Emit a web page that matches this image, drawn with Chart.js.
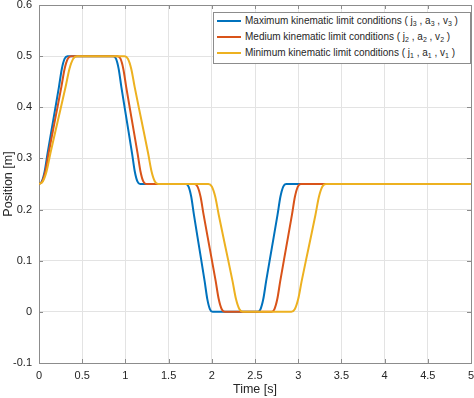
<!DOCTYPE html>
<html>
<head>
<meta charset="utf-8">
<script src="https://cdn.jsdelivr.net/npm/chart.js@4.4.0/dist/chart.umd.min.js"></script>
<style>
  html, body { margin: 0; padding: 0; background: #fff; }
  #wrap { position: relative; width: 474px; height: 398px; }
  #legend {
    position: absolute; left: 213px; top: 12px; width: 256px; height: 50px;
    background: #fff; border: 1px solid #8c8c8c;
    font: 10px "Liberation Sans", Arial, sans-serif; color: #262626;
  }
  .row { position: absolute; left: 0; height: 16px; line-height: 16px; white-space: nowrap; }
  .swatch { position: absolute; left: 3px; top: 7px; width: 24px; height: 2px; }
  .lbl { position: absolute; left: 31px; top: 0; }
  sub { font-size: 7px; vertical-align: -2px; line-height: 0; }
</style>
</head>
<body>
<div id="wrap">
  <canvas id="chart" width="474" height="398"></canvas>
  <div id="legend"></div>
</div>
<script>
// valores
var timeMax = [0, 0.033, 0.066, 0.099, 0.165, 0.231, 0.264, 0.297, 0.33,
  0.86, 0.891, 0.922, 0.953, 1.015, 1.077, 1.108, 1.139, 1.17,
  1.70, 1.731, 1.762, 1.793, 1.855, 1.917, 1.948, 1.979, 2.01,
  2.53, 2.563, 2.596, 2.629, 2.695, 2.761, 2.794, 2.827, 2.86,
  5];
var posMax = [0.25, 0.255, 0.275, 0.31, 0.375, 0.44, 0.475, 0.495, 0.5,
  0.5, 0.495, 0.475, 0.44, 0.375, 0.31, 0.275, 0.255, 0.25,
  0.25, 0.245, 0.225, 0.19, 0.125, 0.06, 0.025, 0.005, 0,
  0, 0.005, 0.025, 0.06, 0.125, 0.19, 0.225, 0.245, 0.25,
  0.25];

var timeMed = [0, 0.037, 0.074, 0.111, 0.185, 0.259, 0.296, 0.333, 0.37,
  0.91, 0.943, 0.976, 1.009, 1.075, 1.141, 1.174, 1.207, 1.24,
  1.80, 1.835, 1.87, 1.905, 1.975, 2.045, 2.08, 2.115, 2.15,
  2.69, 2.724, 2.758, 2.792, 2.86, 2.928, 2.962, 2.996, 3.03,
  5];
var posMed = [0.25, 0.255, 0.275, 0.31, 0.375, 0.44, 0.475, 0.495, 0.5,
  0.5, 0.495, 0.475, 0.44, 0.375, 0.31, 0.275, 0.255, 0.25,
  0.25, 0.245, 0.225, 0.19, 0.125, 0.06, 0.025, 0.005, 0,
  0, 0.005, 0.025, 0.06, 0.125, 0.19, 0.225, 0.245, 0.25,
  0.25];

var timeMin = [0, 0.044, 0.088, 0.132, 0.22, 0.308, 0.352, 0.396, 0.44,
  0.99, 1.029, 1.068, 1.107, 1.185, 1.263, 1.302, 1.341, 1.38,
  1.96, 2.0, 2.04, 2.08, 2.16, 2.24, 2.28, 2.32, 2.36,
  2.92, 2.96, 3.0, 3.04, 3.12, 3.2, 3.24, 3.28, 3.32,
  5];
var posMin = [0.25, 0.255, 0.275, 0.31, 0.375, 0.44, 0.475, 0.495, 0.5,
  0.5, 0.495, 0.475, 0.44, 0.375, 0.31, 0.275, 0.255, 0.25,
  0.25, 0.245, 0.225, 0.19, 0.125, 0.06, 0.025, 0.005, 0,
  0, 0.005, 0.025, 0.06, 0.125, 0.19, 0.225, 0.245, 0.25,
  0.25];

var xTicks = [0, 0.5, 1, 1.5, 2, 2.5, 3, 3.5, 4, 4.5, 5];
var yTicks = [-0.1, 0, 0.1, 0.2, 0.3, 0.4, 0.5, 0.6];

var legendNames = ["Maximum kinematic limit conditions", "Medium kinematic limit conditions", "Minimum kinematic limit conditions"];
var legendIndex = ["3", "2", "1"];

var FONT = '"Liberation Sans", Arial, sans-serif';

function pts(t, p) {
  return t.map(function (v, i) { return { x: v, y: p[i] }; });
}

var datasets = [
  { data: pts(timeMax, posMax), borderColor: "#0072BD", order: 3 },
  { data: pts(timeMed, posMed), borderColor: "#D95319", order: 2 },
  { data: pts(timeMin, posMin), borderColor: "#EDB120", order: 1 },
];

// moldura com marcas para dentro
var frame = {
  id: "frame",
  beforeDatasetsDraw: function (chart) {
    var ctx = chart.ctx, a = chart.chartArea, x = chart.scales.x, y = chart.scales.y;
    ctx.save();
    ctx.strokeStyle = "#8c8c8c";
    ctx.lineWidth = 1;
    ctx.beginPath();
    x.ticks.forEach(function (t) {
      var px = Math.round(x.getPixelForValue(t.value)) + 0.5;
      ctx.moveTo(px, a.bottom); ctx.lineTo(px, a.bottom - 4);
      ctx.moveTo(px, a.top); ctx.lineTo(px, a.top + 4);
    });
    y.ticks.forEach(function (t) {
      var py = Math.round(y.getPixelForValue(t.value)) + 0.5;
      ctx.moveTo(a.left, py); ctx.lineTo(a.left + 4, py);
      ctx.moveTo(a.right, py); ctx.lineTo(a.right - 4, py);
    });
    ctx.stroke();
    ctx.strokeRect(Math.round(a.left) + 0.5, Math.round(a.top) + 0.5,
      Math.round(a.right - a.left), Math.round(a.bottom - a.top));
    ctx.restore();
  }
};

var chart = new Chart(document.getElementById("chart").getContext("2d"), {
  type: "line",
  data: { datasets: datasets },
  options: {
    responsive: false,
    animation: false,
    layout: { padding: { top: 5, right: 3, left: 0, bottom: 0 } },
    plugins: { legend: { display: false }, tooltip: { enabled: false } },
    elements: {
      point: { radius: 0 },
      line: { borderWidth: 2, cubicInterpolationMode: "monotone" }
    },
    scales: {
      x: {
        type: "linear", min: 0, max: 5,
        afterBuildTicks: function (s) { s.ticks = xTicks.map(function (v) { return { value: v }; }); },
        grid: { color: "#e3e3e3", drawTicks: false },
        border: { display: false },
        ticks: { padding: 6, color: "#262626", font: { size: 11, family: FONT }, maxRotation: 0, autoSkip: false,
          callback: function (v) { return String(v); } },
        title: { display: true, text: "Time [s]", color: "#262626", font: { size: 12.5, family: FONT }, padding: { top: 0, bottom: 1 } },
        afterFit: function (s) { s.height = 35; s.paddingLeft = 0; s.paddingRight = 0; }
      },
      y: {
        type: "linear", min: -0.1, max: 0.6,
        afterBuildTicks: function (s) { s.ticks = yTicks.map(function (v) { return { value: v }; }); },
        grid: { color: "#e3e3e3", drawTicks: false },
        border: { display: false },
        ticks: { padding: 7, color: "#262626", font: { size: 11, family: FONT }, autoSkip: false,
          callback: function (v) { return String(v); } },
        title: { display: true, text: "Position [m]", color: "#262626", font: { size: 12.5, family: FONT }, padding: { top: 1, bottom: 0 } },
        afterFit: function (s) { s.width = 39; s.paddingTop = 0; s.paddingBottom = 0; }
      }
    }
  },
  plugins: [frame]
});

// legenda com índices
var leg = document.getElementById("legend");
legendNames.forEach(function (name, i) {
  var k = legendIndex[i];
  var row = document.createElement("div");
  row.className = "row";
  row.style.top = (i * 16) + "px";
  row.innerHTML = '<span class="swatch" style="background:' + datasets[i].borderColor + '"></span>' +
    '<span class="lbl">' + name + ' ( j<sub>' + k + '</sub> , a<sub>' + k + '</sub> , v<sub>' + k + '</sub> )</span>';
  row.style.width = "256px";
  leg.appendChild(row);
});
</script>
</body>
</html>
